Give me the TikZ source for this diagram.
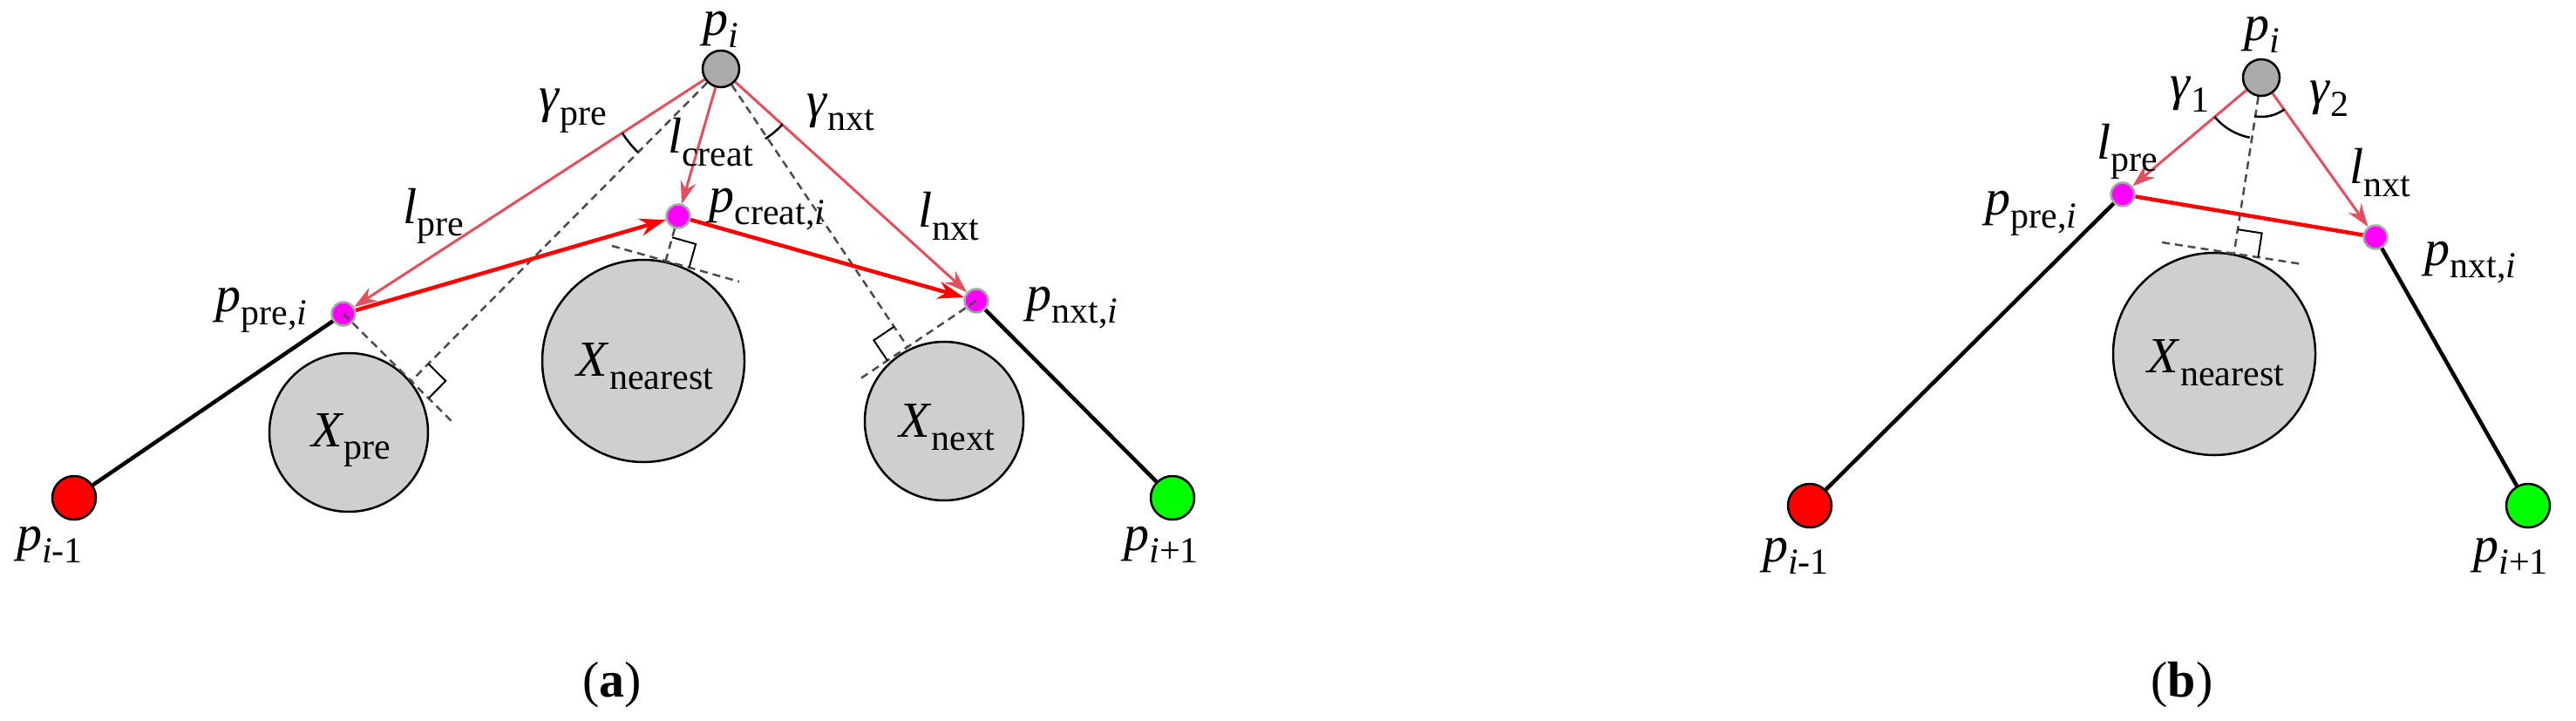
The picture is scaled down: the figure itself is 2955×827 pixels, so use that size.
\documentclass[tikz,border=0pt]{standalone}
\usepackage{fontspec}
\setmainfont{Liberation Serif}
\newfontfamily\tms{Liberation Serif}
\usetikzlibrary{calc,arrows.meta}
\newcommand{\sbs}[1]{\raisebox{-0.25em}{\fontsize{42}{42}\selectfont #1}}
\newcommand{\vp}{\textit{p}}
\definecolor{mag}{RGB}{255,0,255}
\definecolor{pinkred}{RGB}{226,80,96}
\begin{document}
\begin{tikzpicture}[x=1pt,y=1pt,
  every node/.style={font=\tms\fontsize{58}{64}\selectfont},
  vtx/.style={circle,draw=black,line width=2.5pt,inner sep=0pt,minimum size=#1},
  mid/.style={circle,draw=black!35,fill=mag,line width=2.5pt,inner sep=0pt,minimum size=27pt},
  obs/.style={circle,draw=black,line width=2.5pt,fill=black!19,inner sep=0pt,minimum size=#1},
  lnk/.style={draw=black,line width=4.5pt},
  thin/.style={draw=pinkred,color=pinkred,line width=3pt,-{Stealth[length=26pt,width=18pt]}},
  thk/.style={draw=red,line width=4.5pt,-{Stealth[length=30pt,width=20pt]}},
  dsh/.style={draw=black!70,line width=2.5pt,dash pattern=on 9pt off 6pt},
  ang/.style={draw=black,line width=2.5pt}]
\useasboundingbox (0,0) rectangle (2955,-827);
% ---------- panel (a)
\node[obs=182pt] (xpre) at (400,-496) {};
\node[obs=232pt] (xnr) at (738,-414) {};
\node[obs=182pt] (xnx) at (1083,-483) {};
\node at (403,-505) {\textit{X}\sbs{pre}};
\node at (740,-420) {\textit{X}\sbs{nearest}};
\node at (1086,-490) {\textit{X}\sbs{next}};
\node[vtx=42pt,fill=black!33] (pi) at (827,-79) {};
\node[mid] (ppre) at (394,-360) {};
\node[mid] (pcr) at (778,-248) {};
\node[mid] (pnx) at (1120,-345) {};
\node[vtx=50pt,fill=red] (pm) at (85,-571) {};
\node[vtx=50pt,fill=green] (pp) at (1345,-571) {};
\coordinate (t1) at (520,-485);
\coordinate (t2a) at (702,-282);
\coordinate (t2b) at (848,-323);
\coordinate (t3) at (983,-437);
\coordinate (f1) at ($(ppre.center)!(pi.center)!(t1)$);
\coordinate (f2) at ($(t2a)!(pcr.center)!(t2b)$);
\coordinate (f3) at ($(pnx.center)!(pi.center)!(t3)$);
\draw[dsh] (ppre.center) -- (t1);
\draw[dsh] (t2a) -- (t2b);
\draw[dsh] (pnx.center) -- (t3);
\draw[dsh] (pi) -- (f1);
\draw[dsh] (pcr) -- (f2);
\draw[dsh] (pi) -- (f3);
\foreach \f/\a/\b in {f1/pi/t1,f2/pcr/t2b,f3/pi/t3}{
  \draw[ang,line width=2pt] ($(\f)!28pt!(\a)$) -- ($($(\f)!28pt!(\a)$)+($(\f)!28pt!(\b)$)-(\f)$) -- ($(\f)!28pt!(\b)$);
}
\draw[lnk] (pm) -- (ppre);
\draw[lnk] (pnx) -- (pp);
\draw[thin] (pi) -- (ppre);
\draw[thin] (pi) -- (pcr);
\draw[thin] (pi) -- (pnx);
\draw[thk] (ppre) -- (pcr);
\draw[thk] (pcr) -- (pnx);
\draw[ang] ($(pi.center)+(213:135)$) arc (213:225:135);
\draw[ang] ($(pi.center)+(-57.6:95)$) arc (-57.6:-42:95);
\node at (827,-34) {\vp\sbs{\textit{i}}};
\node at (657,-127) {\textit{γ}\sbs{pre}};
\node at (964,-129) {\textit{γ}\sbs{nxt}};
\node at (815,-163) {\textit{l}\sbs{creat}};
\node at (497,-248) {\textit{l}\sbs{pre}};
\node at (1088,-248) {\textit{l}\sbs{nxt}};
\node at (300,-356) {\vp\sbs{pre,\textit{i}}};
\node at (880,-240) {\vp\sbs{creat,\textit{i}}};
\node at (1230,-353) {\vp\sbs{nxt,\textit{i}}};
\node at (57,-625) {\vp\sbs{\textit{i}-1}};
\node at (1332,-625) {\vp\sbs{\textit{i}+1}};
\node at (702,-786) {(\textbf{a})};
% ---------- panel (b)
\node[obs=232pt] (bxnr) at (2540,-406) {};
\node at (2542,-416) {\textit{X}\sbs{nearest}};
\node[vtx=42pt,fill=black!33] (bpi) at (2594,-89) {};
\node[mid] (bppre) at (2435,-223) {};
\node[mid] (bpnx) at (2725,-272) {};
\node[vtx=50pt,fill=red] (bpm) at (2076,-580) {};
\node[vtx=50pt,fill=green] (bpp) at (2900,-580) {};
\coordinate (bta) at (2480,-278);
\coordinate (btb) at (2641,-303);
\coordinate (bf) at ($(bta)!(bpi.center)!(btb)$);
\draw[dsh] (bta) -- (btb);
\draw[dsh] (bpi) -- (bf);
\draw[ang,line width=2pt] ($(bf)!28pt!(bpi)$) -- ($($(bf)!28pt!(bpi)$)+($(bf)!28pt!(btb)$)-(bf)$) -- ($(bf)!28pt!(btb)$);
\draw[lnk] (bpm) -- (bppre);
\draw[lnk] (bpnx) -- (bpp);
\draw[thin] (bpi) -- (bppre);
\draw[thin] (bpi) -- (bpnx);
\draw[draw=red,line width=4.5pt] (bppre) -- (bpnx);
\draw[ang] ($(bpi.center)+(220:70)$) arc (220:259:70);
\draw[ang] ($(bpi.center)+(-100:45)$) arc (-100:-54:45);
\node at (2595,-40) {\vp\sbs{\textit{i}}};
\node at (2512,-108) {\textit{γ}\sbs{1}};
\node at (2672,-113) {\textit{γ}\sbs{2}};
\node at (2440,-174) {\textit{l}\sbs{pre}};
\node at (2730,-198) {\textit{l}\sbs{nxt}};
\node at (2330,-245) {\vp\sbs{pre,\textit{i}}};
\node at (2834,-301) {\vp\sbs{nxt,\textit{i}}};
\node at (2060,-638) {\vp\sbs{\textit{i}-1}};
\node at (2880,-638) {\vp\sbs{\textit{i}+1}};
\node at (2503,-786) {(\textbf{b})};
\end{tikzpicture}
\end{document}
